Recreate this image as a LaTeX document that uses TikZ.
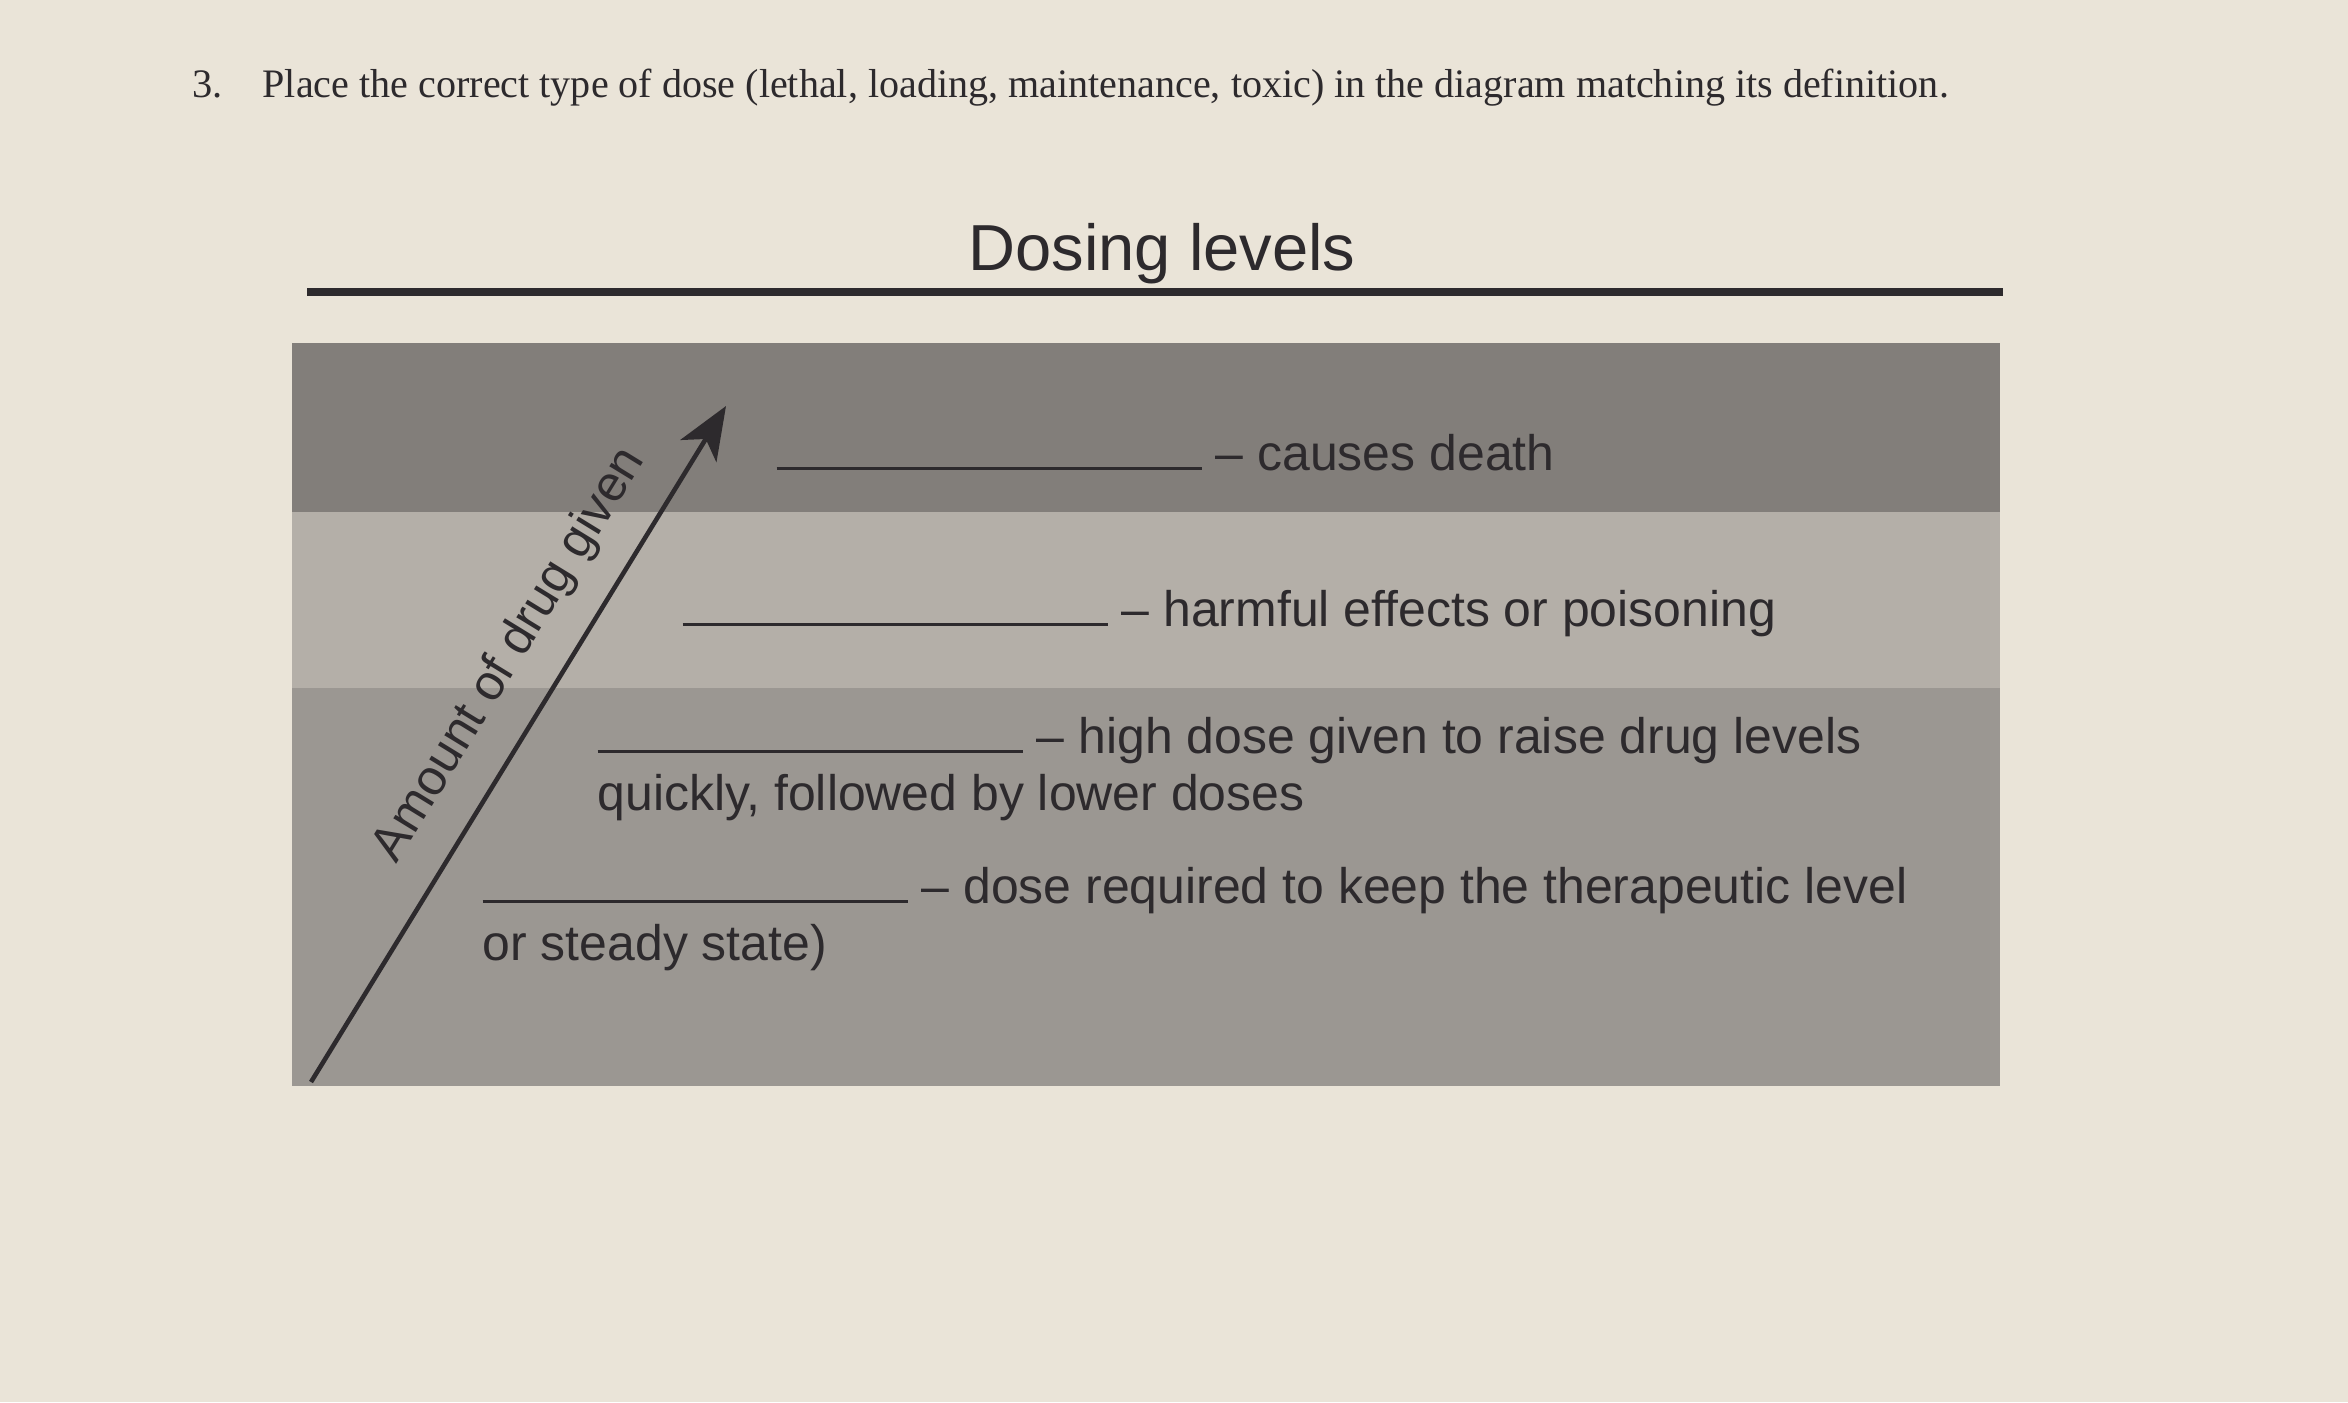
\documentclass[tikz,border=0pt]{standalone}
\usepackage{fontspec}
\setmainfont{Liberation Serif}
\setsansfont{Liberation Sans}
\usepackage{graphicx}
\usetikzlibrary{arrows.meta}

\definecolor{paper}{RGB}{234,228,216}
\definecolor{ink}{RGB}{45,42,45}
\definecolor{lethalgray}{RGB}{130,126,122}
\definecolor{toxicgray}{RGB}{180,175,168}
\definecolor{dosegray}{RGB}{155,151,146}

\newcommand{\blank}{\rule{4.25cm}{0.9pt}}

\tikzset{
  entry/.style={anchor=base west, inner sep=0pt, align=left, text=ink,
    font=\sffamily\fontsize{14.2}{16.2}\selectfont},
}

\begin{document}
\begin{tikzpicture}[x=0.01cm, y=-0.01cm]
  \useasboundingbox (0,0) rectangle (2348,1402);
  \fill[paper] (0,0) rectangle (2348,1402);
  % question
  \node[anchor=base west, inner sep=0pt, text=ink, font=\fontsize{11.5}{13}\selectfont] (num) at (192,97) {3.};
  \node[anchor=base west, inner sep=0pt, text=ink, font=\fontsize{11.5}{13}\selectfont] (question) at (262,97)
    {\resizebox{16.85cm}{\height}{Place the correct type of dose (lethal, loading, maintenance, toxic) in the diagram matching its definition.}};
  % title
  \node[anchor=base, inner sep=0pt, text=ink, font=\sffamily\fontsize{18.5}{20}\selectfont] (title) at (1162,270) {Dosing levels};
  \draw[ink, line width=2.2pt] (307,292) -- (2003,292);
  % bands
  \fill[lethalgray] (292,343) rectangle (2000,512);
  \fill[toxicgray] (292,512) rectangle (2000,688);
  \fill[dosegray] (292,688) rectangle (2000,1086);
  % axis
  \coordinate (base) at (311,1082);
  \coordinate (tip) at (726,406);
  \draw[ink, line width=1.3pt, -{Stealth[length=15pt,width=12pt,inset=4pt]}] (base) -- (tip)
    node[pos=0.59, sloped, above=8pt, inner sep=0pt, text=ink, font=\sffamily\fontsize{14.2}{16}\selectfont] (axislabel) {Amount of drug given};
  % dose entries (base = last line)
  \node[entry] (lethal) at (776,470) {\blank{} -- causes death};
  \node[entry] (toxic) at (682,626) {\blank{} -- harmful effects or poisoning};
  \node[entry] (loading) at (597,810) {\blank{} -- high dose given to raise drug levels\\quickly, followed by lower doses};
  \node[entry] (maintenance) at (482,960) {\blank{} -- dose required to keep the therapeutic level\\or steady state)};
\end{tikzpicture}
\end{document}
